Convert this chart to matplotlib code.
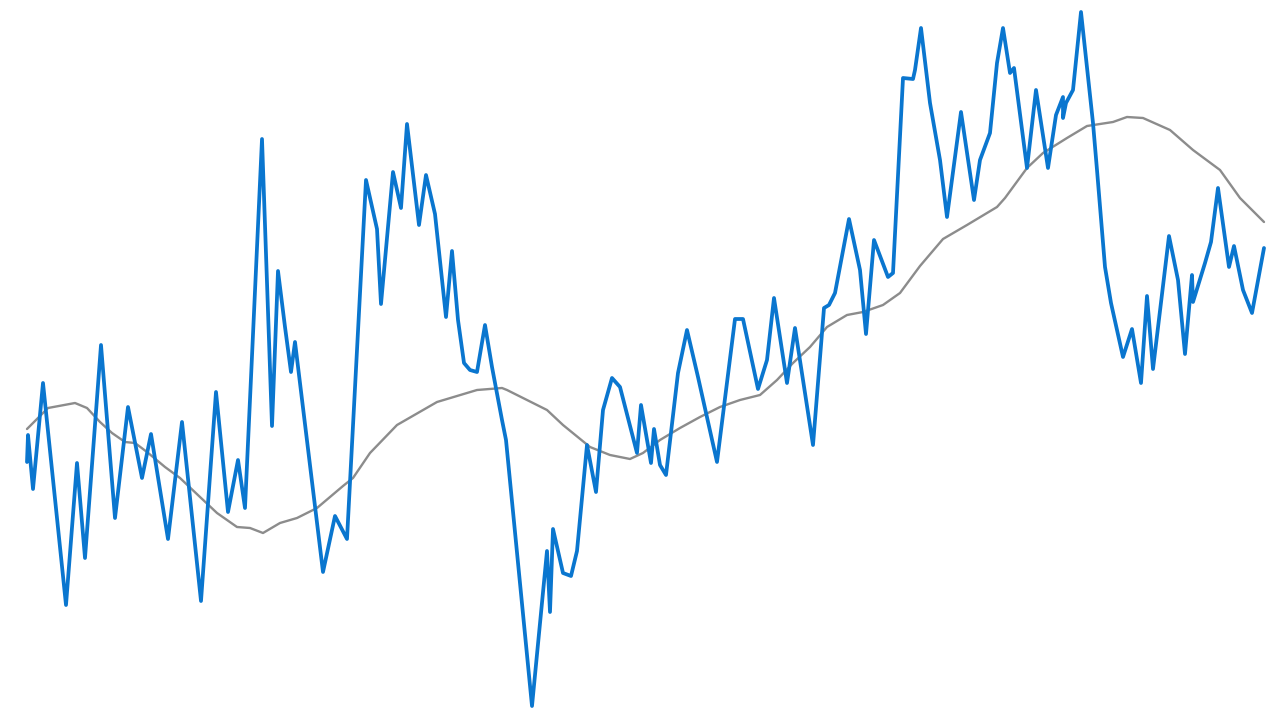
import matplotlib
matplotlib.use("Agg")
import matplotlib.pyplot as plt

# Series (x position, value)
series_x = [27, 28, 33, 43, 66, 77, 85, 101, 115, 128, 142, 151, 168, 182, 201, 216, 228, 238, 245,
            262, 272, 278, 285, 291, 295, 323, 335, 347, 366, 377, 381, 393, 401, 407, 419, 426, 435,
            446, 452, 458, 464, 470, 477, 485, 492, 502, 506, 532, 547, 550, 553, 563, 571, 577, 587,
            596, 603, 612, 620, 637, 641, 651, 654, 660, 666, 678, 687, 698, 717, 735, 743, 758, 767,
            774, 787, 795, 813, 824, 829, 835, 849, 860, 866, 874, 888, 893, 903, 913, 915, 921, 930,
            940, 947, 961, 974, 980, 990, 997, 1003, 1010, 1014, 1027, 1036, 1048, 1056, 1063, 1063, 1066,
            1073, 1081, 1093, 1097, 1105, 1111, 1123, 1132, 1141, 1147, 1153, 1169, 1178, 1185, 1192, 1193,
            1205, 1211, 1218, 1229, 1234, 1243, 1252, 1264]
series_y = [462, 435, 489, 383, 605, 463, 558, 345, 518, 407, 478, 434, 539, 422, 601, 392, 512, 460, 508,
            139, 426, 271, 327, 372, 342, 572, 516, 539, 180, 229, 304, 172, 208, 124, 225, 175, 214,
            317, 251, 320, 363, 370, 372, 325, 367, 420, 440, 706, 551, 612, 529, 573, 576, 551, 445,
            492, 410, 378, 387, 453, 405, 463, 429, 465, 475, 373, 330, 377, 462, 319, 319, 389, 360,
            298, 383, 328, 445, 308, 305, 293, 219, 270, 334, 240, 277, 273, 78, 79, 70, 28, 103,
            160, 217, 112, 200, 160, 133, 63, 28, 73, 68, 168, 90, 168, 115, 97, 118, 103,
            90, 12, 123, 170, 267, 303, 357, 329, 383, 296, 369, 236, 280, 354, 275, 302,
            263, 242, 188, 267, 246, 290, 313, 248]

# Smoothed trend
trend_x = [27, 48, 75, 87, 100, 112, 125, 135, 147, 165, 180, 200, 217, 237, 250, 263, 280, 297,
           317, 343, 353, 370, 397, 437, 477, 502, 507, 547, 563, 590, 610, 630, 643, 660, 680, 700, 720,
           740, 760, 777, 793, 810, 827, 847, 863, 883, 900, 920, 943, 967, 997, 1005, 1027, 1043,
           1067, 1087, 1113, 1127, 1143, 1170, 1193, 1220, 1240, 1264]
trend_y = [429, 408, 403, 408, 422, 433, 442, 443, 452, 467, 478, 497, 513, 527, 528, 533, 523, 518,
           508, 486, 478, 453, 425, 402, 390, 388, 390, 410, 425, 447, 455, 459, 453, 440, 428, 417, 407,
           400, 395, 380, 363, 347, 327, 315, 312, 305, 293, 266, 239, 225, 207, 198, 168, 153,
           138, 126, 122, 117, 118, 130, 150, 170, 198, 222]

H = 720
series_v = [H - v for v in series_y]
trend_v = [H - v for v in trend_y]

fig = plt.figure(figsize=(12.8, 7.2), dpi=100)
ax = fig.add_axes([0, 0, 1, 1])
ax.plot(trend_x, trend_v, color="#8c8c8c", lw=1.7, solid_joinstyle="round", solid_capstyle="round")
ax.plot(series_x, series_v, color="#0a76cf", lw=2.7, solid_joinstyle="round", solid_capstyle="round")
ax.set_xlim(0, 1280)
ax.set_ylim(0, 720)
ax.axis("off")
fig.savefig("out.png", dpi=100, facecolor="white")
